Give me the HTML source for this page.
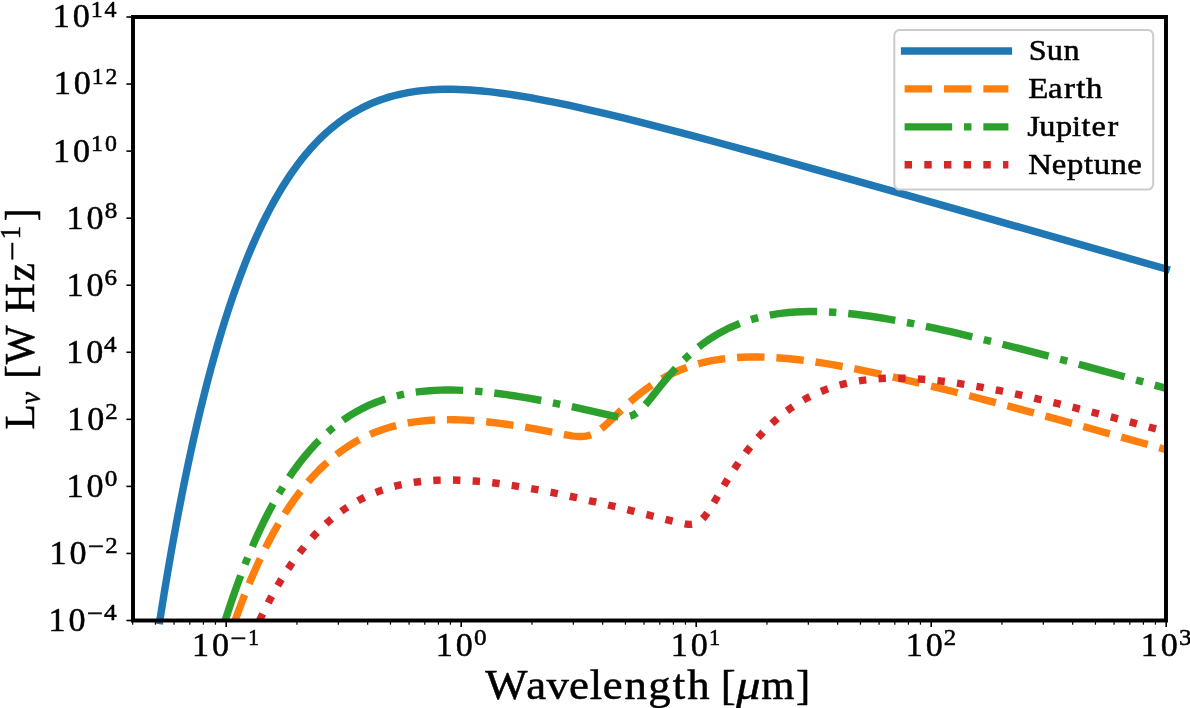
<!DOCTYPE html>
<html><head><meta charset="utf-8"><title>Spectral luminosity of the Sun and planets</title>
<style>
html,body{margin:0;padding:0;background:#fff;}
svg{display:block;will-change:transform;}
text{font-family:"Liberation Serif", serif; font-kerning:none; fill:#000; white-space:pre;}
</style></head><body>
<svg width="1190" height="708" viewBox="0 0 1190 708">
<rect x="0" y="0" width="1190" height="708" fill="#ffffff"/>
<path d="M159.80,620.50 L164.60,590.63 L166.95,576.53 L169.89,559.40 L172.24,546.07 L175.18,529.86 L177.53,517.25 L180.47,501.93 L182.82,490.01 L185.76,475.53 L188.11,464.26 L191.05,450.57 L193.40,439.92 L196.34,426.99 L199.28,414.46 L202.22,402.32 L205.16,390.56 L208.10,379.16 L211.03,368.13 L213.97,357.45 L216.91,347.11 L219.85,337.09 L222.79,327.40 L225.73,318.01 L228.67,308.93 L232.20,298.42 L235.13,289.97 L238.66,280.20 L241.60,272.35 L245.13,263.27 L248.07,255.97 L251.59,247.54 L254.53,240.77 L258.06,232.95 L261.59,225.45 L265.11,218.25 L268.64,211.35 L272.17,204.74 L275.69,198.39 L279.22,192.32 L282.75,186.51 L286.27,180.94 L289.80,175.61 L293.91,169.69 L297.44,164.86 L301.56,159.49 L305.67,154.40 L309.78,149.59 L313.90,145.03 L318.01,140.73 L322.13,136.66 L326.24,132.82 L330.36,129.21 L334.47,125.81 L338.59,122.61 L343.29,119.19 L347.40,116.40 L352.11,113.43 L356.81,110.68 L361.51,108.15 L366.21,105.82 L371.50,103.43 L376.21,101.50 L381.50,99.53 L385.61,98.15 L389.72,96.89 L393.84,95.74 L398.54,94.57 L403.24,93.53 L407.95,92.62 L412.65,91.84 L417.35,91.17 L422.05,90.61 L427.34,90.11 L432.05,89.77 L437.34,89.50 L442.63,89.33 L447.92,89.27 L453.21,89.31 L458.50,89.44 L464.37,89.68 L470.25,90.02 L476.13,90.45 L482.01,90.97 L488.47,91.63 L494.94,92.37 L501.41,93.20 L508.46,94.18 L515.51,95.25 L522.57,96.39 L530.21,97.70 L537.85,99.08 L545.49,100.53 L553.72,102.16 L570.76,105.72 L587.81,109.51 L605.44,113.62 L624.25,118.17 L644.83,123.32 L667.16,129.07 L691.26,135.42 L717.71,142.51 L746.52,150.36 L777.08,158.79 L810.58,168.11 L848.20,178.66 L891.70,190.93 L999.85,221.62 L1166.20,269.01" stroke="#1f77b4" stroke-width="7.43" stroke-linecap="square" stroke-linejoin="round" fill="none"/>
<path d="M235.08,620.50 L238.07,612.18 L241.60,602.72 L244.54,595.13 L248.07,586.35 L251.00,579.30 L254.53,571.15 L258.06,563.33 L261.59,555.83 L265.11,548.63 L268.64,541.73 L272.17,535.11 L275.69,528.77 L279.22,522.70 L282.75,516.88 L286.27,511.32 L290.39,505.13 L293.91,500.07 L298.03,494.45 L302.14,489.12 L306.26,484.08 L310.37,479.30 L314.49,474.78 L318.60,470.51 L322.72,466.48 L326.83,462.67 L331.53,458.59 L335.65,455.25 L340.35,451.67 L344.46,448.75 L349.17,445.64 L353.87,442.75 L358.57,440.09 L363.27,437.63 L367.98,435.37 L372.68,433.31 L377.38,431.42 L382.08,429.71 L387.37,427.98 L392.08,426.60 L397.37,425.23 L402.66,424.03 L407.95,423.00 L413.24,422.13 L419.11,421.33 L424.99,420.70 L430.87,420.22 L436.75,419.90 L443.21,419.70 L448.50,419.65 L454.38,419.71 L459.67,419.86 L465.55,420.12 L471.43,420.48 L477.31,420.93 L483.77,421.52 L490.24,422.20 L497.88,423.11 L506.11,424.22 L514.34,425.44 L522.57,426.76 L530.79,428.18 L539.02,429.67 L564.89,434.67 L569.00,435.38 L571.94,435.83 L574.29,436.12 L576.64,436.35 L578.41,436.45 L580.17,436.50 L581.93,436.47 L583.70,436.35 L585.46,436.13 L587.22,435.81 L588.99,435.37 L590.75,434.80 L592.51,434.10 L594.28,433.26 L596.04,432.29 L597.80,431.20 L599.57,429.99 L601.33,428.67 L604.27,426.27 L607.80,423.13 L611.32,419.81 L620.73,410.69 L625.43,406.23 L630.72,401.42 L635.42,397.37 L638.36,394.96 L641.30,392.63 L644.24,390.39 L647.18,388.25 L650.12,386.20 L653.06,384.23 L655.99,382.35 L658.93,380.56 L661.87,378.86 L665.40,376.91 L668.34,375.38 L671.87,373.65 L674.80,372.29 L678.33,370.75 L681.27,369.54 L684.80,368.18 L688.32,366.92 L691.85,365.75 L695.38,364.67 L698.90,363.67 L702.43,362.76 L705.96,361.92 L709.48,361.16 L713.60,360.36 L720.06,359.30 L723.59,358.81 L727.12,358.39 L734.17,357.72 L737.70,357.46 L741.81,357.23 L749.45,356.99 L757.68,356.96 L765.91,357.16 L774.14,357.56 L782.96,358.19 L791.78,359.01 L801.18,360.06 L811.17,361.37 L821.75,362.94 L832.33,364.68 L843.50,366.67 L855.26,368.92 L867.01,371.31 L879.36,373.94 L892.29,376.82 L906.40,380.08 L921.09,383.59 L936.37,387.35 L952.83,391.49 L970.46,396.02 L988.69,400.80 L1008.67,406.12 L1029.83,411.82 L1052.17,417.92 L1103.89,432.23 L1166.20,449.70" stroke="#ff7f0e" stroke-width="7.43" stroke-linecap="butt" stroke-linejoin="round" stroke-dasharray="27.491,11.888" fill="none"/>
<path d="M225.18,620.50 L229.26,607.91 L233.37,595.77 L237.49,584.18 L242.19,571.57 L246.30,561.08 L251.00,549.69 L255.12,540.21 L259.82,529.93 L264.52,520.20 L269.23,510.99 L273.93,502.30 L278.63,494.08 L283.33,486.33 L285.68,482.61 L288.62,478.13 L290.97,474.65 L293.91,470.45 L296.27,467.21 L299.20,463.29 L301.56,460.25 L304.49,456.59 L306.85,453.76 L309.78,450.35 L312.14,447.72 L315.07,444.54 L318.01,441.49 L320.95,438.56 L323.30,436.31 L326.24,433.59 L329.18,430.98 L332.12,428.49 L335.06,426.10 L338.00,423.82 L340.94,421.63 L343.88,419.54 L346.82,417.55 L349.75,415.65 L352.69,413.84 L356.22,411.78 L359.16,410.16 L362.69,408.31 L365.62,406.87 L369.15,405.23 L372.09,403.94 L375.62,402.50 L379.14,401.15 L382.67,399.89 L386.20,398.73 L389.72,397.66 L393.25,396.67 L396.78,395.76 L400.89,394.80 L405.59,393.83 L410.30,392.98 L415.00,392.25 L419.70,391.64 L424.99,391.08 L429.69,390.69 L434.98,390.37 L440.27,390.16 L445.56,390.05 L450.85,390.05 L456.73,390.15 L462.61,390.36 L468.49,390.68 L474.37,391.08 L480.24,391.57 L486.71,392.20 L493.18,392.92 L499.64,393.73 L506.70,394.69 L513.75,395.74 L520.80,396.86 L528.44,398.15 L536.08,399.52 L550.19,402.22 L565.47,405.35 L581.93,408.95 L607.21,414.70 L611.91,415.70 L615.44,416.35 L618.96,416.85 L620.73,417.01 L622.49,417.11 L624.25,417.11 L625.43,417.05 L627.19,416.85 L628.37,416.64 L630.13,416.19 L631.90,415.57 L633.66,414.76 L635.42,413.75 L637.19,412.55 L638.95,411.17 L640.71,409.60 L642.48,407.88 L645.41,404.72 L648.35,401.28 L651.88,396.94 L658.93,388.03 L663.05,382.91 L667.16,377.95 L670.69,373.85 L674.80,369.26 L678.92,364.90 L683.03,360.76 L687.15,356.84 L690.67,353.65 L694.20,350.62 L697.73,347.74 L701.84,344.57 L705.37,342.00 L709.48,339.18 L713.60,336.53 L717.71,334.06 L722.42,331.44 L727.71,328.74 L732.41,326.55 L737.70,324.30 L742.99,322.28 L748.28,320.47 L753.57,318.86 L759.45,317.29 L765.32,315.95 L771.20,314.80 L777.08,313.85 L782.96,313.08 L788.84,312.48 L795.30,311.99 L801.77,311.68 L808.82,311.53 L814.70,311.53 L821.16,311.68 L827.63,311.94 L834.10,312.33 L841.15,312.87 L848.20,313.53 L855.26,314.31 L862.90,315.25 L870.54,316.30 L878.77,317.54 L887.00,318.88 L895.23,320.31 L904.04,321.94 L912.86,323.65 L922.27,325.55 L932.26,327.66 L942.25,329.85 L952.83,332.23 L964.00,334.83 L975.17,337.49 L999.27,343.43 L1025.72,350.18 L1055.11,357.91 L1087.44,366.60 L1124.47,376.74 L1166.20,388.32" stroke="#2ca02c" stroke-width="7.43" stroke-linecap="butt" stroke-linejoin="round" stroke-dasharray="47.552,11.888,7.430,11.888" fill="none"/>
<path d="M259.53,620.50 L262.76,613.74 L265.70,607.80 L268.64,602.07 L271.58,596.54 L274.52,591.20 L278.04,585.04 L280.98,580.10 L284.51,574.41 L287.45,569.86 L290.97,564.61 L294.50,559.59 L298.03,554.79 L301.56,550.21 L305.08,545.83 L308.61,541.66 L312.14,537.67 L315.66,533.88 L319.19,530.26 L322.72,526.82 L326.83,523.01 L330.36,519.93 L334.47,516.53 L338.00,513.77 L342.11,510.74 L345.64,508.29 L349.75,505.61 L353.87,503.10 L357.98,500.75 L362.10,498.57 L366.21,496.54 L370.33,494.66 L375.03,492.69 L380.32,490.67 L386.20,488.69 L392.08,486.94 L397.95,485.43 L403.83,484.13 L410.30,482.94 L416.76,481.97 L423.23,481.21 L429.69,480.65 L436.75,480.24 L443.80,480.03 L451.44,480.01 L459.08,480.18 L466.73,480.53 L474.95,481.08 L483.18,481.80 L490.82,482.61 L498.47,483.53 L506.70,484.65 L514.92,485.87 L523.74,487.30 L532.56,488.83 L541.96,490.57 L551.37,492.41 L563.71,494.94 L576.64,497.73 L590.16,500.77 L604.86,504.20 L618.38,507.45 L633.07,511.08 L648.94,515.09 L673.04,521.29 L680.09,522.99 L682.45,523.49 L684.80,523.91 L686.56,524.16 L688.32,524.32 L690.09,524.38 L691.26,524.34 L693.03,524.14 L694.20,523.90 L695.96,523.34 L697.14,522.83 L698.90,521.82 L700.08,520.98 L701.26,520.00 L702.43,518.88 L703.61,517.64 L705.37,515.53 L706.55,513.99 L708.31,511.50 L710.07,508.82 L711.84,506.01 L714.77,501.13 L724.77,484.14 L728.29,478.35 L731.23,473.66 L734.17,469.12 L737.11,464.72 L740.05,460.48 L742.99,456.38 L746.52,451.66 L750.04,447.14 L753.57,442.82 L757.68,438.04 L761.21,434.14 L765.32,429.82 L769.44,425.74 L773.55,421.89 L777.67,418.27 L782.37,414.38 L786.49,411.20 L791.19,407.80 L795.30,405.03 L800.00,402.07 L804.71,399.34 L809.41,396.83 L814.11,394.51 L819.40,392.14 L824.10,390.22 L829.39,388.27 L834.68,386.53 L839.97,384.98 L845.26,383.62 L850.55,382.44 L856.43,381.32 L862.31,380.38 L868.19,379.63 L874.07,379.04 L880.53,378.57 L887.00,378.28 L893.46,378.14 L900.52,378.17 L907.57,378.35 L914.62,378.69 L922.27,379.20 L929.91,379.86 L937.55,380.65 L945.78,381.64 L954.01,382.75 L962.82,384.07 L971.64,385.50 L981.04,387.14 L991.04,389.00 L1001.03,390.97 L1011.61,393.15 L1022.19,395.43 L1033.95,398.05 L1045.70,400.76 L1058.05,403.69 L1070.98,406.83 L1084.50,410.19 L1099.19,413.92 L1114.47,417.87 L1130.93,422.19 L1166.20,431.63" stroke="#d62728" stroke-width="7.43" stroke-linecap="butt" stroke-linejoin="round" stroke-dasharray="7.430,12.259" fill="none"/>
<line x1="226.20" y1="620.5" x2="226.20" y2="627.10" stroke="#000" stroke-width="1.6"/>
<line x1="461.20" y1="620.5" x2="461.20" y2="627.10" stroke="#000" stroke-width="1.6"/>
<line x1="696.20" y1="620.5" x2="696.20" y2="627.10" stroke="#000" stroke-width="1.6"/>
<line x1="931.20" y1="620.5" x2="931.20" y2="627.10" stroke="#000" stroke-width="1.6"/>
<line x1="1166.20" y1="620.5" x2="1166.20" y2="627.10" stroke="#000" stroke-width="1.6"/>
<line x1="132.68" y1="620.5" x2="132.68" y2="624.70" stroke="#000" stroke-width="1.2"/>
<line x1="155.46" y1="620.5" x2="155.46" y2="624.70" stroke="#000" stroke-width="1.2"/>
<line x1="174.07" y1="620.5" x2="174.07" y2="624.70" stroke="#000" stroke-width="1.2"/>
<line x1="189.80" y1="620.5" x2="189.80" y2="624.70" stroke="#000" stroke-width="1.2"/>
<line x1="203.43" y1="620.5" x2="203.43" y2="624.70" stroke="#000" stroke-width="1.2"/>
<line x1="215.45" y1="620.5" x2="215.45" y2="624.70" stroke="#000" stroke-width="1.2"/>
<line x1="296.94" y1="620.5" x2="296.94" y2="624.70" stroke="#000" stroke-width="1.2"/>
<line x1="338.32" y1="620.5" x2="338.32" y2="624.70" stroke="#000" stroke-width="1.2"/>
<line x1="367.68" y1="620.5" x2="367.68" y2="624.70" stroke="#000" stroke-width="1.2"/>
<line x1="390.46" y1="620.5" x2="390.46" y2="624.70" stroke="#000" stroke-width="1.2"/>
<line x1="409.07" y1="620.5" x2="409.07" y2="624.70" stroke="#000" stroke-width="1.2"/>
<line x1="424.80" y1="620.5" x2="424.80" y2="624.70" stroke="#000" stroke-width="1.2"/>
<line x1="438.43" y1="620.5" x2="438.43" y2="624.70" stroke="#000" stroke-width="1.2"/>
<line x1="450.45" y1="620.5" x2="450.45" y2="624.70" stroke="#000" stroke-width="1.2"/>
<line x1="531.94" y1="620.5" x2="531.94" y2="624.70" stroke="#000" stroke-width="1.2"/>
<line x1="573.32" y1="620.5" x2="573.32" y2="624.70" stroke="#000" stroke-width="1.2"/>
<line x1="602.68" y1="620.5" x2="602.68" y2="624.70" stroke="#000" stroke-width="1.2"/>
<line x1="625.46" y1="620.5" x2="625.46" y2="624.70" stroke="#000" stroke-width="1.2"/>
<line x1="644.07" y1="620.5" x2="644.07" y2="624.70" stroke="#000" stroke-width="1.2"/>
<line x1="659.80" y1="620.5" x2="659.80" y2="624.70" stroke="#000" stroke-width="1.2"/>
<line x1="673.43" y1="620.5" x2="673.43" y2="624.70" stroke="#000" stroke-width="1.2"/>
<line x1="685.45" y1="620.5" x2="685.45" y2="624.70" stroke="#000" stroke-width="1.2"/>
<line x1="766.94" y1="620.5" x2="766.94" y2="624.70" stroke="#000" stroke-width="1.2"/>
<line x1="808.32" y1="620.5" x2="808.32" y2="624.70" stroke="#000" stroke-width="1.2"/>
<line x1="837.68" y1="620.5" x2="837.68" y2="624.70" stroke="#000" stroke-width="1.2"/>
<line x1="860.46" y1="620.5" x2="860.46" y2="624.70" stroke="#000" stroke-width="1.2"/>
<line x1="879.07" y1="620.5" x2="879.07" y2="624.70" stroke="#000" stroke-width="1.2"/>
<line x1="894.80" y1="620.5" x2="894.80" y2="624.70" stroke="#000" stroke-width="1.2"/>
<line x1="908.43" y1="620.5" x2="908.43" y2="624.70" stroke="#000" stroke-width="1.2"/>
<line x1="920.45" y1="620.5" x2="920.45" y2="624.70" stroke="#000" stroke-width="1.2"/>
<line x1="1001.94" y1="620.5" x2="1001.94" y2="624.70" stroke="#000" stroke-width="1.2"/>
<line x1="1043.32" y1="620.5" x2="1043.32" y2="624.70" stroke="#000" stroke-width="1.2"/>
<line x1="1072.68" y1="620.5" x2="1072.68" y2="624.70" stroke="#000" stroke-width="1.2"/>
<line x1="1095.46" y1="620.5" x2="1095.46" y2="624.70" stroke="#000" stroke-width="1.2"/>
<line x1="1114.07" y1="620.5" x2="1114.07" y2="624.70" stroke="#000" stroke-width="1.2"/>
<line x1="1129.80" y1="620.5" x2="1129.80" y2="624.70" stroke="#000" stroke-width="1.2"/>
<line x1="1143.43" y1="620.5" x2="1143.43" y2="624.70" stroke="#000" stroke-width="1.2"/>
<line x1="1155.45" y1="620.5" x2="1155.45" y2="624.70" stroke="#000" stroke-width="1.2"/>
<line x1="133.0" y1="620.50" x2="126.40" y2="620.50" stroke="#000" stroke-width="1.6"/>
<line x1="133.0" y1="553.44" x2="126.40" y2="553.44" stroke="#000" stroke-width="1.6"/>
<line x1="133.0" y1="486.39" x2="126.40" y2="486.39" stroke="#000" stroke-width="1.6"/>
<line x1="133.0" y1="419.33" x2="126.40" y2="419.33" stroke="#000" stroke-width="1.6"/>
<line x1="133.0" y1="352.28" x2="126.40" y2="352.28" stroke="#000" stroke-width="1.6"/>
<line x1="133.0" y1="285.22" x2="126.40" y2="285.22" stroke="#000" stroke-width="1.6"/>
<line x1="133.0" y1="218.17" x2="126.40" y2="218.17" stroke="#000" stroke-width="1.6"/>
<line x1="133.0" y1="151.11" x2="126.40" y2="151.11" stroke="#000" stroke-width="1.6"/>
<line x1="133.0" y1="84.06" x2="126.40" y2="84.06" stroke="#000" stroke-width="1.6"/>
<line x1="133.0" y1="17.00" x2="126.40" y2="17.00" stroke="#000" stroke-width="1.6"/>
<rect x="133.0" y="17.0" width="1033.0" height="603.5" fill="none" stroke="#000" stroke-width="3.95"/>
<text transform="translate(51.86,630.90) scale(1.0042,1)" x="-3.37 16.53" y="0" font-size="33.95" stroke="#000" stroke-width="0.5">10</text>
<text transform="translate(88.44,621.36) scale(1.1965,1)" x="-1.18" y="0" font-size="23.77" stroke="#000" stroke-width="0.5">−</text>
<text transform="translate(104.56,620.10) scale(1.0623,1)" x="-0.46" y="0" font-size="23.77" stroke="#000" stroke-width="0.5">4</text>
<text transform="translate(52.87,563.84) scale(1.0042,1)" x="-3.37 16.53" y="0" font-size="33.95" stroke="#000" stroke-width="0.5">10</text>
<text transform="translate(89.45,554.31) scale(1.1965,1)" x="-1.18" y="0" font-size="23.77" stroke="#000" stroke-width="0.5">−</text>
<text transform="translate(106.36,553.04) scale(1.0433,1)" x="-1.04" y="0" font-size="23.77" stroke="#000" stroke-width="0.5">2</text>
<text transform="translate(69.91,496.79) scale(1.0042,1)" x="-3.37 16.53" y="0" font-size="33.95" stroke="#000" stroke-width="0.5">10</text>
<text transform="translate(105.65,485.99) scale(1.0575,1)" x="-0.91" y="0" font-size="23.77" stroke="#000" stroke-width="0.5">0</text>
<text transform="translate(70.58,429.73) scale(1.0042,1)" x="-3.37 16.53" y="0" font-size="33.95" stroke="#000" stroke-width="0.5">10</text>
<text transform="translate(106.36,418.93) scale(1.0433,1)" x="-1.04" y="0" font-size="23.77" stroke="#000" stroke-width="0.5">2</text>
<text transform="translate(69.57,362.68) scale(1.0042,1)" x="-3.37 16.53" y="0" font-size="33.95" stroke="#000" stroke-width="0.5">10</text>
<text transform="translate(104.56,351.88) scale(1.0623,1)" x="-0.46" y="0" font-size="23.77" stroke="#000" stroke-width="0.5">4</text>
<text transform="translate(69.84,295.62) scale(1.0042,1)" x="-3.37 16.53" y="0" font-size="33.95" stroke="#000" stroke-width="0.5">10</text>
<text transform="translate(105.60,284.82) scale(1.0542,1)" x="-1.02" y="0" font-size="23.77" stroke="#000" stroke-width="0.5">6</text>
<text transform="translate(69.93,228.57) scale(1.0042,1)" x="-3.37 16.53" y="0" font-size="33.95" stroke="#000" stroke-width="0.5">10</text>
<text transform="translate(105.69,217.77) scale(1.0534,1)" x="-0.91" y="0" font-size="23.77" stroke="#000" stroke-width="0.5">8</text>
<text transform="translate(56.46,161.51) scale(1.0042,1)" x="-3.37 16.53" y="0" font-size="33.95" stroke="#000" stroke-width="0.5">10</text>
<text transform="translate(93.38,150.71) scale(1.0042,1)" x="-2.36 11.57" y="0" font-size="23.77" stroke="#000" stroke-width="0.5">10</text>
<text transform="translate(57.13,94.46) scale(1.0042,1)" x="-3.37 16.53" y="0" font-size="33.95" stroke="#000" stroke-width="0.5">10</text>
<text transform="translate(94.06,83.66) scale(0.9950,1)" x="-2.32 11.55" y="0" font-size="23.77" stroke="#000" stroke-width="0.5">12</text>
<text transform="translate(56.12,27.40) scale(1.0042,1)" x="-3.37 16.53" y="0" font-size="33.95" stroke="#000" stroke-width="0.5">10</text>
<text transform="translate(93.04,16.60) scale(1.0096,1)" x="-2.38 11.23" y="0" font-size="23.77" stroke="#000" stroke-width="0.5">14</text>
<text transform="translate(195.29,655.60) scale(1.0042,1)" x="-3.37 16.53" y="0" font-size="33.95" stroke="#000" stroke-width="0.5">10</text>
<text transform="translate(231.87,646.06) scale(1.1965,1)" x="-1.18" y="0" font-size="23.77" stroke="#000" stroke-width="0.5">−</text>
<text transform="translate(249.93,644.80) scale(0.9401,1)" x="-2.09" y="0" font-size="23.77" stroke="#000" stroke-width="0.5">1</text>
<text transform="translate(439.15,655.60) scale(1.0042,1)" x="-3.37 16.53" y="0" font-size="33.95" stroke="#000" stroke-width="0.5">10</text>
<text transform="translate(474.88,644.80) scale(1.0575,1)" x="-0.91" y="0" font-size="23.77" stroke="#000" stroke-width="0.5">0</text>
<text transform="translate(674.15,655.60) scale(1.0042,1)" x="-3.37 16.53" y="0" font-size="33.95" stroke="#000" stroke-width="0.5">10</text>
<text transform="translate(711.07,644.80) scale(0.9401,1)" x="-2.09" y="0" font-size="23.77" stroke="#000" stroke-width="0.5">1</text>
<text transform="translate(909.15,655.60) scale(1.0042,1)" x="-3.37 16.53" y="0" font-size="33.95" stroke="#000" stroke-width="0.5">10</text>
<text transform="translate(944.92,644.80) scale(1.0433,1)" x="-1.04" y="0" font-size="23.77" stroke="#000" stroke-width="0.5">2</text>
<text transform="translate(1144.15,655.60) scale(1.0042,1)" x="-3.37 16.53" y="0" font-size="33.95" stroke="#000" stroke-width="0.5">10</text>
<text transform="translate(1180.10,644.80) scale(1.0461,1)" x="-1.14" y="0" font-size="23.77" stroke="#000" stroke-width="0.5">3</text>
<text transform="translate(487.38,699.00) scale(1.0877,1)" x="-2.07 35.72 54.29 75.13 94.13 106.14 126.08 147.80 170.52 183.66 204.71 214.66" y="0" font-size="41.19" stroke="#000" stroke-width="0.5">Wavelength [</text>
<text transform="translate(736.30,699.00) scale(1.1550,1)" x="0.04" y="0" font-size="41.84" font-style="italic" stroke="#000" stroke-width="0.5">μ</text>
<text transform="translate(761.60,699.00) scale(1.0361,1)" x="-0.33 33.31" y="0" font-size="41.19" stroke="#000" stroke-width="0.5">m]</text>
<text transform="translate(33.80,0) rotate(-90) translate(-428.20,0) scale(1.0066,1)" x="-1.19" y="0" font-size="41.19" stroke="#000" stroke-width="0.5">L</text>
<text transform="translate(40.20,0) rotate(-90) translate(-403.70,0) scale(0.9286,1)" x="-0.40" y="0" font-size="29.29" font-style="italic" stroke="#000" stroke-width="0.5">ν</text>
<text transform="translate(33.80,0) rotate(-90) translate(-375.30,0) scale(0.9963,1)" x="-15.00 -3.43 11.00 49.47 62.60 94.38" y="0" font-size="41.19" stroke="#000" stroke-width="0.5"> [W Hz</text>
<text transform="translate(21.55,0) rotate(-90) translate(-259.30,0) scale(1.1965,1)" x="-1.45" y="0" font-size="29.12" stroke="#000" stroke-width="0.5">−</text>
<text transform="translate(20.00,0) rotate(-90) translate(-237.18,0) scale(0.9401,1)" x="-2.56" y="0" font-size="29.12" stroke="#000" stroke-width="0.5">1</text>
<text transform="translate(33.80,0) rotate(-90) translate(-220.00,0) scale(0.9159,1)" x="-1.49" y="0" font-size="41.19" stroke="#000" stroke-width="0.5">]</text>
<rect x="894.3" y="29.9" width="258.9000000000001" height="159.7" rx="5.5" ry="5.5" fill="#ffffff" fill-opacity="0.8" stroke="#cccccc" stroke-width="2"/>
<path d="M904.6,50.95 L1008.4,50.95" stroke="#1f77b4" stroke-width="7.43" stroke-linecap="square" stroke-linejoin="round" fill="none"/>
<path d="M904.6,88.90 L1008.4,88.90" stroke="#ff7f0e" stroke-width="7.43" stroke-linecap="butt" stroke-linejoin="round" stroke-dasharray="27.491,11.888" fill="none"/>
<path d="M904.6,126.85 L1008.4,126.85" stroke="#2ca02c" stroke-width="7.43" stroke-linecap="butt" stroke-linejoin="round" stroke-dasharray="47.552,11.888,7.430,11.888" fill="none"/>
<path d="M904.6,164.80 L1008.4,164.80" stroke="#d62728" stroke-width="7.43" stroke-linecap="butt" stroke-linejoin="round" stroke-dasharray="7.430,12.259" fill="none"/>
<text transform="translate(1030.88,60.40) scale(1.1157,1)" x="-1.96 14.16 29.15" y="0" font-size="28.84" stroke="#000" stroke-width="0.5">Sun</text>
<text transform="translate(1030.13,98.35) scale(1.1394,1)" x="-1.75 15.65 29.77 40.50 49.15" y="0" font-size="28.84" stroke="#000" stroke-width="0.5">Earth</text>
<text transform="translate(1029.02,136.30) scale(1.1222,1)" x="-1.66 9.12 24.09 38.41 46.80 55.62 69.89" y="0" font-size="28.84" stroke="#000" stroke-width="0.5">Jupiter</text>
<text transform="translate(1029.96,174.25) scale(1.1349,1)" x="-1.57 19.14 32.54 47.73 56.22 70.96 85.82" y="0" font-size="28.84" stroke="#000" stroke-width="0.5">Neptune</text>
</svg>
</body></html>
